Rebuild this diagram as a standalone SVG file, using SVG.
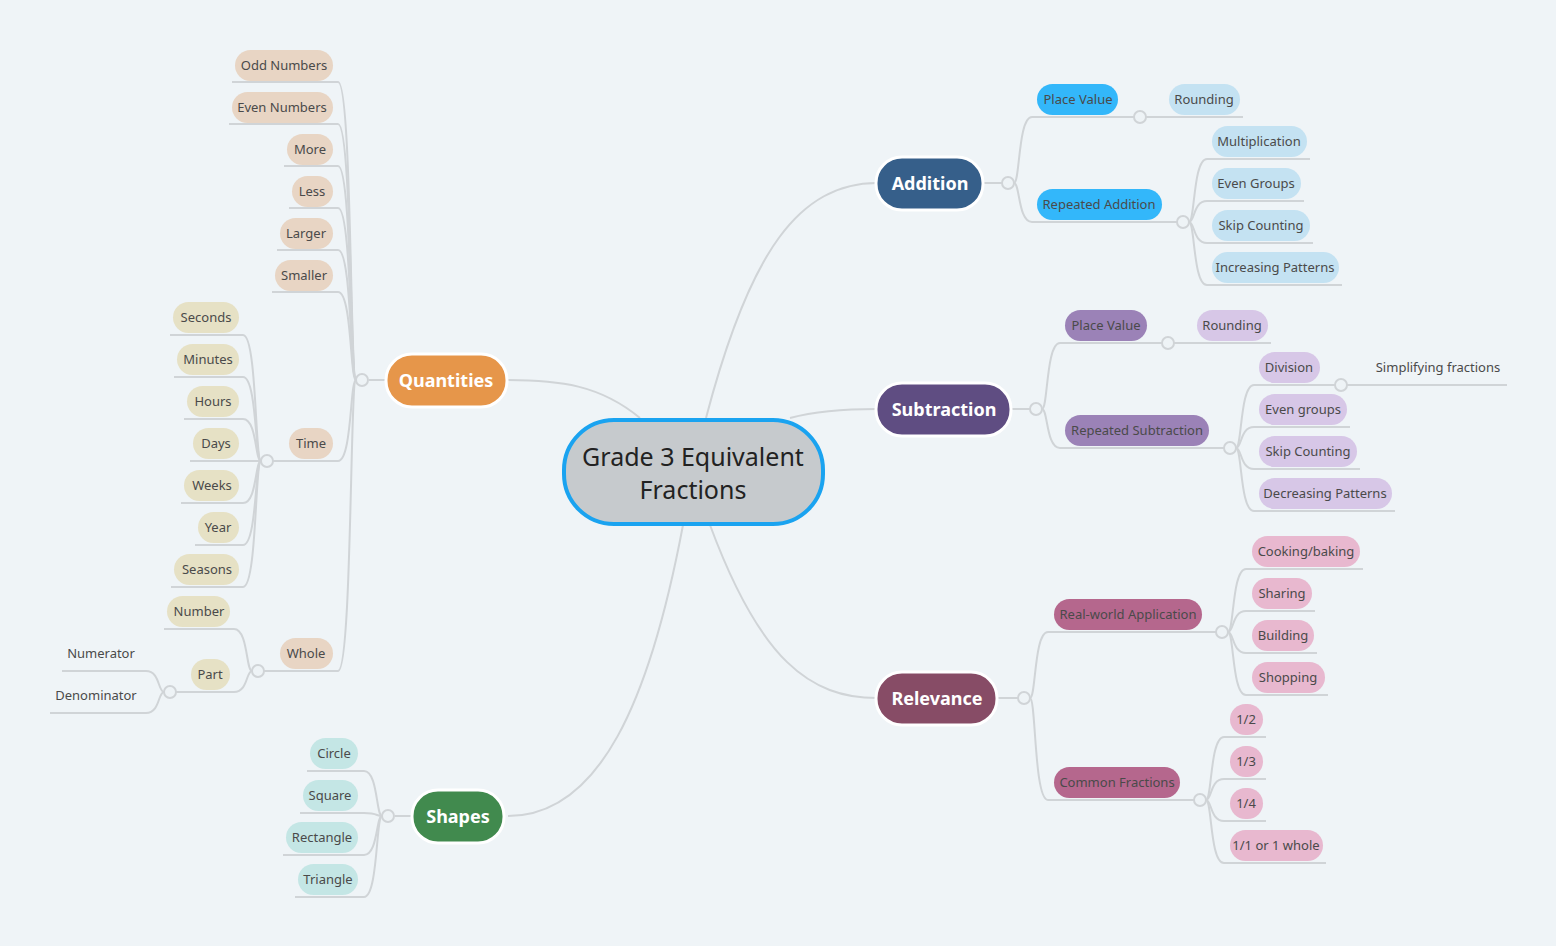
<svg xmlns="http://www.w3.org/2000/svg" width="1556" height="946" viewBox="0 0 1556 946">
<style>
.c path{fill:none;stroke:#d0d4d7;stroke-width:2}
.hub{fill:#eef3f6;stroke:#d0d4d7;stroke-width:2}
text{font-family:"Noto Sans","Liberation Sans",sans-serif;font-size:13px;fill:#4a4a4a;text-anchor:middle;dominant-baseline:central}
.m text{font-size:18px;font-weight:bold;fill:#fff}
.m rect{stroke:#fff;stroke-width:3}
.qa{fill:#e8d5c4}.qb{fill:#e6e1c5}.sh{fill:#c4e6e5}
.aa{fill:#33b7fa}.ab{fill:#c4e2f2}
.sa{fill:#9b82b7}.sb{fill:#d7c7e7}
.ra{fill:#b5678d}.rb{fill:#e8b8cf}
</style>
<rect width="1556" height="946" fill="#eff4f7"/>
<g class="c" id="connectors">
<path d="M640 418 C600 385 560 380 506 380"/>
<path d="M683 525 C650 700 600 816 508 816"/>
<path d="M706 418 C750 250 800 183 877 183"/>
<path d="M790 418 C820 410 850 409 877 409"/>
<path d="M710 525 C760 660 810 698 877 698"/>
<path d="M369 380 H387"/><path d="M395 816 H413"/><path d="M982 183 H1002"/><path d="M1010 409 H1030"/><path d="M996 698 H1018"/>
<path d="M232 82 H338 C352 82 350 380 356 380"/>
<path d="M229 124 H338 C352 124 350 380 356 380"/>
<path d="M284 166 H338 C352 166 350 380 356 380"/>
<path d="M289 208 H338 C352 208 350 380 356 380"/>
<path d="M277 250 H338 C352 250 350 380 356 380"/>
<path d="M272 292 H338 C352 292 350 380 356 380"/>
<path d="M273 461 H338 C352 461 350 380 356 380"/>
<path d="M264 671 H338 C352 671 350 380 356 380"/>
<path d="M170 335 H243 C257 335 255 461 261 461"/>
<path d="M174 377 H243 C257 377 255 461 261 461"/>
<path d="M184 419 H243 C257 419 255 461 261 461"/>
<path d="M190 461 H261"/>
<path d="M181 503 H243 C257 503 255 461 261 461"/>
<path d="M195 545 H243 C257 545 255 461 261 461"/>
<path d="M171 587 H243 C257 587 255 461 261 461"/>
<path d="M164 629 H234 C248 629 246 671 252 671"/>
<path d="M176 692 H234 C248 692 246 671 252 671"/>
<path d="M62 671 H146 C160 671 158 692 164 692"/>
<path d="M50 713 H146 C160 713 158 692 164 692"/>
<path d="M307 771 H364 C378 771 376 816 382 816"/>
<path d="M300 813 H364 C378 813 376 816 382 816"/>
<path d="M283 855 H364 C378 855 376 816 382 816"/>
<path d="M295 897 H364 C378 897 376 816 382 816"/>
<path d="M1014 183 C1020 183 1018 117 1032 117 H1134"/>
<path d="M1014 183 C1020 183 1018 222 1032 222 H1177"/>
<path d="M1146 117 H1243"/>
<path d="M1189 222 C1195 222 1193 159 1207 159 H1310"/>
<path d="M1189 222 C1195 222 1193 201 1207 201 H1304"/>
<path d="M1189 222 C1195 222 1193 243 1207 243 H1313"/>
<path d="M1189 222 C1195 222 1193 285 1207 285 H1342"/>
<path d="M1042 409 C1048 409 1046 343 1060 343 H1162"/>
<path d="M1042 409 C1048 409 1046 448 1060 448 H1224"/>
<path d="M1174 343 H1271"/>
<path d="M1236 448 C1242 448 1240 385 1254 385 H1335"/>
<path d="M1236 448 C1242 448 1240 427 1254 427 H1350"/>
<path d="M1236 448 C1242 448 1240 469 1254 469 H1360"/>
<path d="M1236 448 C1242 448 1240 511 1254 511 H1395"/>
<path d="M1347 385 H1507"/>
<path d="M1030 698 C1036 698 1034 632 1048 632 H1216"/>
<path d="M1030 698 C1036 698 1034 800 1048 800 H1194"/>
<path d="M1228 632 C1234 632 1232 569 1246 569 H1363"/>
<path d="M1228 632 C1234 632 1232 611 1246 611 H1315"/>
<path d="M1228 632 C1234 632 1232 653 1246 653 H1317"/>
<path d="M1228 632 C1234 632 1232 695 1246 695 H1328"/>
<path d="M1206 800 C1212 800 1210 737 1224 737 H1266"/>
<path d="M1206 800 C1212 800 1210 779 1224 779 H1266"/>
<path d="M1206 800 C1212 800 1210 821 1224 821 H1266"/>
<path d="M1206 800 C1212 800 1210 863 1224 863 H1326"/>
<circle class="hub" cx="362" cy="380" r="6"/><circle class="hub" cx="267" cy="461" r="6"/><circle class="hub" cx="258" cy="671" r="6"/><circle class="hub" cx="170" cy="692" r="6"/><circle class="hub" cx="388" cy="816" r="6"/>
<circle class="hub" cx="1008" cy="183" r="6"/><circle class="hub" cx="1140" cy="117" r="6"/><circle class="hub" cx="1183" cy="222" r="6"/><circle class="hub" cx="1036" cy="409" r="6"/><circle class="hub" cx="1168" cy="343" r="6"/><circle class="hub" cx="1230" cy="448" r="6"/><circle class="hub" cx="1341" cy="385" r="6"/><circle class="hub" cx="1024" cy="698" r="6"/><circle class="hub" cx="1222" cy="632" r="6"/><circle class="hub" cx="1200" cy="800" r="6"/>
</g>
<g id="root"><rect x="564" y="420" width="259" height="104" rx="50" fill="#c6cacd" stroke="#1aa3f0" stroke-width="4"/><text x="693" y="456" style="font-size:25px;fill:#222">Grade 3 Equivalent</text><text x="693" y="489" style="font-size:25px;fill:#222">Fractions</text></g>
<g class="m">
<g id="quantities"><rect x="386" y="354" width="121" height="53" rx="26" fill="#e6964a"/><text x="446" y="380">Quantities</text></g>
<g id="shapes"><rect x="412" y="790" width="92" height="53" rx="26" fill="#418a4e"/><text x="458" y="816">Shapes</text></g>
<g id="addition"><rect x="876" y="157" width="107" height="53" rx="26" fill="#365f8a"/><text x="930" y="183">Addition</text></g>
<g id="subtraction"><rect x="876" y="383" width="135" height="53" rx="26" fill="#5f4d82"/><text x="944" y="409">Subtraction</text></g>
<g id="relevance"><rect x="876" y="672" width="121" height="53" rx="26" fill="#874c66"/><text x="937" y="698">Relevance</text></g>
</g>
<g id="q-odd"><rect class="qa" x="235" y="50" width="98" height="31" rx="15.5"/><text x="284" y="65">Odd Numbers</text></g>
<g id="q-even"><rect class="qa" x="232" y="92" width="101" height="31" rx="15.5"/><text x="282" y="107">Even Numbers</text></g>
<g id="q-more"><rect class="qa" x="287" y="134" width="46" height="31" rx="15.5"/><text x="310" y="149">More</text></g>
<g id="q-less"><rect class="qa" x="292" y="176" width="41" height="31" rx="15.5"/><text x="312" y="191">Less</text></g>
<g id="q-larger"><rect class="qa" x="280" y="218" width="53" height="31" rx="15.5"/><text x="306" y="233">Larger</text></g>
<g id="q-smaller"><rect class="qa" x="275" y="260" width="58" height="31" rx="15.5"/><text x="304" y="275">Smaller</text></g>
<g id="q-time"><rect class="qa" x="289" y="428" width="44" height="31" rx="15.5"/><text x="311" y="443">Time</text></g>
<g id="q-whole"><rect class="qa" x="280" y="638" width="53" height="31" rx="15.5"/><text x="306" y="653">Whole</text></g>
<g id="t-seconds"><rect class="qb" x="173" y="302" width="66" height="31" rx="15.5"/><text x="206" y="317">Seconds</text></g>
<g id="t-minutes"><rect class="qb" x="177" y="344" width="62" height="31" rx="15.5"/><text x="208" y="359">Minutes</text></g>
<g id="t-hours"><rect class="qb" x="187" y="386" width="52" height="31" rx="15.5"/><text x="213" y="401">Hours</text></g>
<g id="t-days"><rect class="qb" x="193" y="428" width="46" height="31" rx="15.5"/><text x="216" y="443">Days</text></g>
<g id="t-weeks"><rect class="qb" x="184" y="470" width="55" height="31" rx="15.5"/><text x="212" y="485">Weeks</text></g>
<g id="t-year"><rect class="qb" x="198" y="512" width="41" height="31" rx="15.5"/><text x="218" y="527">Year</text></g>
<g id="t-seasons"><rect class="qb" x="174" y="554" width="65" height="31" rx="15.5"/><text x="207" y="569">Seasons</text></g>
<g id="w-number"><rect class="qb" x="167" y="596" width="63" height="31" rx="15.5"/><text x="199" y="611">Number</text></g>
<g id="w-part"><rect class="qb" x="191" y="659" width="39" height="31" rx="15.5"/><text x="210" y="674">Part</text></g>
<g id="p-num"><text x="101" y="653">Numerator</text></g>
<g id="p-den"><text x="96" y="695">Denominator</text></g>
<g id="s-circle"><rect class="sh" x="310" y="738" width="48" height="31" rx="15.5"/><text x="334" y="753">Circle</text></g>
<g id="s-square"><rect class="sh" x="303" y="780" width="55" height="31" rx="15.5"/><text x="330" y="795">Square</text></g>
<g id="s-rect"><rect class="sh" x="286" y="822" width="72" height="31" rx="15.5"/><text x="322" y="837">Rectangle</text></g>
<g id="s-tri"><rect class="sh" x="298" y="864" width="60" height="31" rx="15.5"/><text x="328" y="879">Triangle</text></g>
<g id="a-pv"><rect class="aa" x="1037" y="84" width="81" height="31" rx="15.5"/><text x="1078" y="99">Place Value</text></g>
<g id="a-round"><rect class="ab" x="1169" y="84" width="71" height="31" rx="15.5"/><text x="1204" y="99">Rounding</text></g>
<g id="a-ra"><rect class="aa" x="1037" y="189" width="125" height="31" rx="15.5"/><text x="1099" y="204">Repeated Addition</text></g>
<g id="a-mult"><rect class="ab" x="1212" y="126" width="95" height="31" rx="15.5"/><text x="1259" y="141">Multiplication</text></g>
<g id="a-eg"><rect class="ab" x="1212" y="168" width="89" height="31" rx="15.5"/><text x="1256" y="183">Even Groups</text></g>
<g id="a-sc"><rect class="ab" x="1212" y="210" width="98" height="31" rx="15.5"/><text x="1261" y="225">Skip Counting</text></g>
<g id="a-ip"><rect class="ab" x="1212" y="252" width="127" height="31" rx="15.5"/><text x="1275" y="267">Increasing Patterns</text></g>
<g id="s-pv"><rect class="sa" x="1065" y="310" width="82" height="31" rx="15.5"/><text x="1106" y="325">Place Value</text></g>
<g id="s-round"><rect class="sb" x="1197" y="310" width="71" height="31" rx="15.5"/><text x="1232" y="325">Rounding</text></g>
<g id="s-rs"><rect class="sa" x="1065" y="415" width="144" height="31" rx="15.5"/><text x="1137" y="430">Repeated Subtraction</text></g>
<g id="s-div"><rect class="sb" x="1259" y="352" width="61" height="31" rx="15.5"/><text x="1289" y="367">Division</text></g>
<g id="s-simp"><text x="1438" y="367">Simplifying fractions</text></g>
<g id="s-eg"><rect class="sb" x="1259" y="394" width="88" height="31" rx="15.5"/><text x="1303" y="409">Even groups</text></g>
<g id="s-sc"><rect class="sb" x="1259" y="436" width="98" height="31" rx="15.5"/><text x="1308" y="451">Skip Counting</text></g>
<g id="s-dp"><rect class="sb" x="1259" y="478" width="133" height="31" rx="15.5"/><text x="1325" y="493">Decreasing Patterns</text></g>
<g id="r-rwa"><rect class="ra" x="1054" y="599" width="148" height="31" rx="15.5"/><text x="1128" y="614">Real-world Application</text></g>
<g id="r-cook"><rect class="rb" x="1252" y="536" width="108" height="31" rx="15.5"/><text x="1306" y="551">Cooking/baking</text></g>
<g id="r-share"><rect class="rb" x="1252" y="578" width="60" height="31" rx="15.5"/><text x="1282" y="593">Sharing</text></g>
<g id="r-build"><rect class="rb" x="1252" y="620" width="62" height="31" rx="15.5"/><text x="1283" y="635">Building</text></g>
<g id="r-shop"><rect class="rb" x="1252" y="662" width="73" height="31" rx="15.5"/><text x="1288" y="677">Shopping</text></g>
<g id="r-cf"><rect class="ra" x="1054" y="767" width="126" height="31" rx="15.5"/><text x="1117" y="782">Common Fractions</text></g>
<g id="r-12"><rect class="rb" x="1230" y="704" width="33" height="31" rx="15.5"/><text x="1246" y="719">1/2</text></g>
<g id="r-13"><rect class="rb" x="1230" y="746" width="33" height="31" rx="15.5"/><text x="1246" y="761">1/3</text></g>
<g id="r-14"><rect class="rb" x="1230" y="788" width="33" height="31" rx="15.5"/><text x="1246" y="803">1/4</text></g>
<g id="r-11"><rect class="rb" x="1230" y="830" width="93" height="31" rx="15.5"/><text x="1276" y="845">1/1 or 1 whole</text></g>
</svg>
